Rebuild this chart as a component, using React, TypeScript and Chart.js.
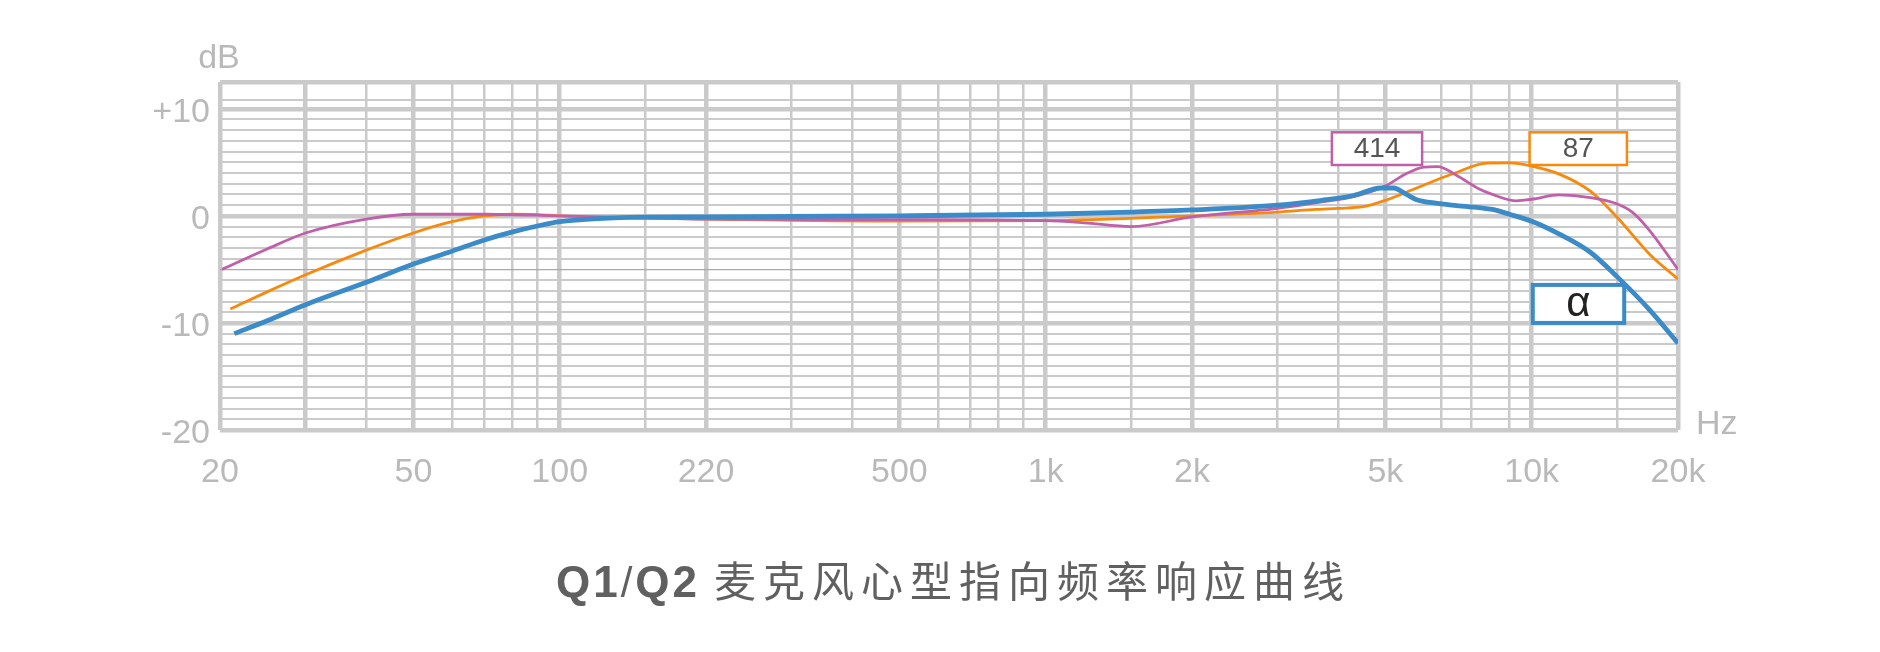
import React, { useEffect, useRef } from "react";
import { Chart, registerables } from "chart.js";

Chart.register(...registerables);

// ---------------- data ----------------
const alphaFreq = [21.4, 25, 30, 40, 50, 60, 70, 80, 90, 100, 120, 150, 200, 300, 500, 1000, 1500, 2000, 3000, 3700, 4300, 4900, 5200, 5500, 5800, 6300, 7000, 8300, 9000, 10000, 11400, 13200, 15000, 17500, 20000];
const alphaDb = [-11.0, -9.8, -8.3, -6.2, -4.5, -3.3, -2.25, -1.5, -0.95, -0.55, -0.25, -0.12, -0.1, -0.05, 0.0, 0.15, 0.35, 0.55, 1.0, 1.45, 1.9, 2.6, 2.6, 2.05, 1.5, 1.2, 0.95, 0.6, 0.15, -0.5, -1.7, -3.4, -5.7, -8.8, -11.9];

const m87Freq = [21, 25, 30, 40, 50, 60, 70, 80, 90, 100, 150, 200, 500, 1000, 2000, 3000, 3600, 4000, 4500, 5000, 5800, 6900, 8100, 9000, 10000, 11400, 13200, 15000, 17500, 20000];
const m87Db = [-8.7, -7.1, -5.5, -3.2, -1.6, -0.55, 0.0, 0.15, 0.12, 0.0, -0.2, -0.3, -0.5, -0.45, 0.0, 0.35, 0.6, 0.7, 0.85, 1.45, 2.6, 3.95, 4.93, 4.95, 4.65, 3.9, 2.3, -0.15, -3.6, -5.9];

const m414Freq = [20.2, 25, 30, 40, 50, 70, 100, 200, 500, 1000, 1200, 1500, 2000, 3000, 3700, 4300, 5000, 5500, 6000, 6400, 7000, 7800, 8300, 9300, 10000, 11400, 13200, 15000, 16150, 17500, 20000];
const m414Db = [-5.0, -3.1, -1.6, -0.3, 0.15, 0.15, 0.0, -0.3, -0.35, -0.45, -0.65, -1.0, -0.1, 0.7, 1.3, 1.8, 2.8, 3.9, 4.55, 4.6, 3.8, 2.5, 2.0, 1.4, 1.55, 1.95, 1.7, 1.1, 0.3, -1.4, -5.0];

const seriesNames = ["α", "414", "87"];

// x grid (Hz) and labels
const gridFreqs = [20, 30, 40, 50, 60, 70, 80, 90, 100, 150, 200, 300, 400, 500, 600, 700, 800, 900, 1000, 1500, 2000, 3000, 4000, 5000, 6500, 7500, 9000, 10000, 15000, 20000];
const majorFreqs = [20, 30, 50, 100, 200, 500, 1000, 2000, 5000, 10000, 20000];
const xLabelValues = [20, 50, 100, 200, 500, 1000, 2000, 5000, 10000, 20000];
const xLabelTexts = ["20", "50", "100", "220", "500", "1k", "2k", "5k", "10k", "20k"];

// y grid (dB) and labels
const gridDbs = [-20, -19, -18, -17, -16, -15, -14, -13, -12, -11, -10, -9, -8, -7, -6, -5, -4, -3, -2, -1, 0, 1, 2, 3, 4, 5, 6, 7, 8, 9, 10, 10.8, 12.5];
const majorDbs = [-20, -10, 0, 10, 12.5];
const darkDbs = [-5];
const yLabelValues = [-20, -10, 0, 10];
const yLabelTexts = ["-20", "-10", "0", "+10"];

// callout boxes (in data units)
const boxTexts = ["414", "87", "α"];
const boxFreqFrom = [3880, 9900, 10050];
const boxFreqTo = [5950, 15700, 15500];
const boxDbTop = [7.8, 7.8, -6.45];
const boxDbBottom = [4.75, 4.75, -10.0];

const titleLatin = ["Q1", "/", "Q2"];
const titleCjk = "麦克风心型指向频率响应曲线";

// ---------------- styles ----------------
const BLUE = "#3b8bc9";
const ORANGE = "#f7890d";
const PURPLE = "#c060a8";
const GRID = "#cbcaca";
const GRID_DARK = "#a9a9a9";
const LABEL = "#b9b9b9";
const TITLE = "#606060";
const LATIN = "'Liberation Sans', Arial, Helvetica, sans-serif";
const CJK = "'Noto Sans CJK SC', 'Noto Sans', sans-serif";

const seriesColors = [BLUE, PURPLE, ORANGE];
const seriesWidths = [4.8, 2.8, 2.8];
const boxColors = [PURPLE, ORANGE, BLUE];
const boxBorder = [2.5, 2.5, 4];
const boxTextColors = ["#555555", "#555555", "#222222"];
const boxFonts = [`28px ${LATIN}`, `28px ${LATIN}`, `42px ${LATIN}`];

const extrasPlugin = {
  id: "extras",
  afterDatasetsDraw(chart: any) {
    const { ctx } = chart;
    const xs = chart.scales.x;
    const ys = chart.scales.y;
    ctx.save();
    for (let i = 0; i < boxTexts.length; i++) {
      const x1 = xs.getPixelForValue(boxFreqFrom[i]);
      const x2 = xs.getPixelForValue(boxFreqTo[i]);
      const y1 = ys.getPixelForValue(boxDbTop[i]);
      const y2 = ys.getPixelForValue(boxDbBottom[i]);
      ctx.fillStyle = "#ffffff";
      ctx.fillRect(x1, y1, x2 - x1, y2 - y1);
      ctx.strokeStyle = boxColors[i];
      ctx.lineWidth = boxBorder[i];
      ctx.strokeRect(x1, y1, x2 - x1, y2 - y1);
      ctx.fillStyle = boxTextColors[i];
      ctx.font = boxFonts[i];
      ctx.textAlign = "center";
      ctx.textBaseline = "middle";
      ctx.fillText(boxTexts[i], (x1 + x2) / 2, (y1 + y2) / 2 + 1);
    }
    ctx.restore();
  },
  afterDraw(chart: any) {
    const { ctx, chartArea } = chart;
    ctx.save();
    // unit labels
    ctx.fillStyle = LABEL;
    ctx.font = `34px ${LATIN}`;
    ctx.textBaseline = "middle";
    ctx.textAlign = "center";
    ctx.fillText("dB", chartArea.left - 1, chartArea.top - 23);
    ctx.textAlign = "left";
    ctx.fillText("Hz", chartArea.right + 18, chartArea.bottom - 5);

    // title
    const fonts = [`bold 44px ${LATIN}`, `42px ${LATIN}`, `bold 44px ${LATIN}`];
    const latinSpacing = 3;
    const cjkFont = `42px ${CJK}`;
    const cjkSpacing = 7;
    const gap = 14;
    let total = 0;
    titleLatin.forEach((t, i) => {
      ctx.font = fonts[i];
      total += ctx.measureText(t).width + latinSpacing * t.length;
    });
    ctx.font = cjkFont;
    const cjkChars = Array.from(titleCjk);
    const cjkW = cjkChars.map((c) => ctx.measureText(c).width);
    total += gap + cjkW.reduce((a, b) => a + b, 0) + cjkSpacing * (cjkChars.length - 1);
    let x = chart.width / 2 + 10 - total / 2;
    const baseY = 597;
    ctx.fillStyle = TITLE;
    ctx.textAlign = "left";
    ctx.textBaseline = "alphabetic";
    titleLatin.forEach((t, i) => {
      ctx.font = fonts[i];
      for (const ch of Array.from(t)) {
        ctx.fillText(ch, x, baseY);
        x += ctx.measureText(ch).width + latinSpacing;
      }
    });
    x += gap;
    ctx.font = cjkFont;
    cjkChars.forEach((c, i) => {
      ctx.fillText(c, x, baseY);
      x += cjkW[i] + cjkSpacing;
    });
    ctx.restore();
  },
};

export default function App() {
  const ref = useRef<HTMLCanvasElement | null>(null);

  useEffect(() => {
    if (!ref.current) return;
    const toPoints = (fs: number[], ds: number[]) => fs.map((f, i) => ({ x: f, y: ds[i] }));
    const seriesData = [toPoints(alphaFreq, alphaDb), toPoints(m414Freq, m414Db), toPoints(m87Freq, m87Db)];

    const chart = new Chart(ref.current, {
      type: "line",
      data: {
        datasets: seriesNames.map((name, i) => ({
          label: name,
          data: seriesData[i],
          borderColor: seriesColors[i],
          borderWidth: seriesWidths[i],
          pointRadius: 0,
          fill: false,
          cubicInterpolationMode: "monotone" as const,
          borderCapStyle: "butt" as const,
        })),
      },
      options: {
        responsive: false,
        animation: false,
        devicePixelRatio: 1,
        layout: { padding: { top: 82, bottom: 0, left: 0, right: 202 } },
        plugins: {
          legend: { display: false },
          tooltip: { enabled: false },
          title: { display: false },
        },
        scales: {
          x: {
            type: "logarithmic",
            min: 20,
            max: 20000,
            position: "bottom",
            afterBuildTicks: (s: any) => {
              s.ticks = gridFreqs.map((v) => ({ value: v }));
            },
            afterFit: (s: any) => {
              s.height = 222;
            },
            border: { display: false },
            grid: {
              drawTicks: false,
              color: GRID,
              lineWidth: (c: any) => (c.tick && majorFreqs.includes(c.tick.value) ? 4.5 : 2.5),
            },
            ticks: {
              autoSkip: false,
              maxRotation: 0,
              minRotation: 0,
              padding: 22,
              color: LABEL,
              font: { family: LATIN, size: 34 },
              callback: (v: any) => {
                const i = xLabelValues.indexOf(Number(v));
                return i >= 0 ? xLabelTexts[i] : "";
              },
            },
          },
          y: {
            type: "linear",
            min: -20,
            max: 12.5,
            afterBuildTicks: (s: any) => {
              s.ticks = gridDbs.map((v) => ({ value: v }));
            },
            afterFit: (s: any) => {
              s.width = 220;
            },
            border: { display: false },
            grid: {
              drawTicks: false,
              color: (c: any) => (c.tick && darkDbs.includes(c.tick.value) ? GRID_DARK : GRID),
              lineWidth: (c: any) => {
                if (!c.tick) return 2;
                if (majorDbs.includes(c.tick.value)) return 4.5;
                if (darkDbs.includes(c.tick.value)) return 1.2;
                return 2;
              },
            },
            ticks: {
              autoSkip: false,
              padding: 10,
              labelOffset: 4,
              color: LABEL,
              font: { family: LATIN, size: 34 },
              callback: (v: any) => {
                const i = yLabelValues.indexOf(Number(v));
                return i >= 0 ? yLabelTexts[i] : "";
              },
            },
          },
        },
      },
      plugins: [extrasPlugin],
    });
    return () => chart.destroy();
  }, []);

  return (
    <div style={{ position: "fixed", left: 0, top: 0, width: 1880, height: 652, background: "#ffffff" }}>
      <canvas ref={ref} width={1880} height={652} style={{ display: "block" }} />
    </div>
  );
}
